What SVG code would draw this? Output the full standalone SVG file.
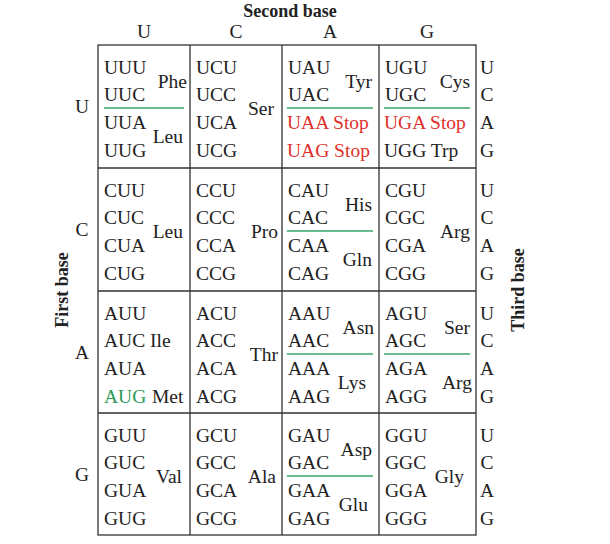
<svg xmlns="http://www.w3.org/2000/svg" width="610" height="544" viewBox="0 0 610 544">
<style>
text{font-family:"Liberation Serif",serif;font-size:19.5px;fill:#222}
.b{font-weight:bold;font-size:18px}
.r{fill:#e0302a}
.g{fill:#2e9a5a}
.e{text-anchor:end}
.m{text-anchor:middle}
.gl{stroke:#3aa66a;stroke-width:1.5}
.grid{fill:none;stroke:#333;stroke-width:1.3}
</style>
<rect width="610" height="544" fill="#fff"/>
<g id="headers">
<text class="b m" x="290" y="17">Second base</text>
<text class="m" x="144" y="38">U</text><text class="m" x="236" y="38">C</text><text class="m" x="330" y="38">A</text><text class="m" x="427" y="38">G</text>
<text class="m" x="82" y="113">U</text><text class="m" x="82" y="236">C</text><text class="m" x="82" y="359">A</text><text class="m" x="82" y="481">G</text>
<text class="b m" transform="translate(68,290) rotate(-90)">First base</text>
<text class="b m" transform="translate(524,290) rotate(-90)">Third base</text>
</g>
<g id="third">
<text class="m" x="487" y="74">U</text><text class="m" x="487" y="101">C</text><text class="m" x="487" y="129">A</text><text class="m" x="487" y="157">G</text>
<text class="m" x="487" y="197">U</text><text class="m" x="487" y="224">C</text><text class="m" x="487" y="252">A</text><text class="m" x="487" y="280">G</text>
<text class="m" x="487" y="320">U</text><text class="m" x="487" y="347">C</text><text class="m" x="487" y="375">A</text><text class="m" x="487" y="403">G</text>
<text class="m" x="487" y="442">U</text><text class="m" x="487" y="469">C</text><text class="m" x="487" y="497">A</text><text class="m" x="487" y="525">G</text>
</g>
<g id="grid" class="grid">
<rect x="98" y="45" width="378" height="490"/>
<path d="M190 45V535M282 45V535M379 45V535M98 168H476M98 291H476M98 413H476"/>
</g>
<g id="connectors">
<path class="gl" d="M104 108H184M287 108H373M384 108H470M287 231H373M287 354H373M384 354H470M287 476H373"/>
</g>
<g id="rowU">
<text x="104" y="74">UUU</text><text x="104" y="101">UUC</text><text x="104" y="129">UUA</text><text x="104" y="157">UUG</text>
<text class="e" x="187" y="88">Phe</text><text class="e" x="183" y="143">Leu</text>
<text x="196" y="74">UCU</text><text x="196" y="101">UCC</text><text x="196" y="129">UCA</text><text x="196" y="157">UCG</text>
<text class="e" x="274" y="115">Ser</text>
<text x="288" y="74">UAU</text><text x="288" y="101">UAC</text><text class="r" x="287" y="129">UAA Stop</text><text class="r" x="287" y="157">UAG Stop</text>
<text class="e" x="372" y="88">Tyr</text>
<text x="385" y="74">UGU</text><text x="385" y="101">UGC</text><text class="r" x="384" y="129">UGA Stop</text><text x="384" y="157">UGG Trp</text>
<text class="e" x="470" y="88">Cys</text>
</g>
<g id="rowC">
<text x="104" y="197">CUU</text><text x="104" y="224">CUC</text><text x="104" y="252">CUA</text><text x="104" y="280">CUG</text>
<text class="e" x="183" y="238">Leu</text>
<text x="196" y="197">CCU</text><text x="196" y="224">CCC</text><text x="196" y="252">CCA</text><text x="196" y="280">CCG</text>
<text class="e" x="278" y="238">Pro</text>
<text x="288" y="197">CAU</text><text x="288" y="224">CAC</text><text x="288" y="252">CAA</text><text x="288" y="280">CAG</text>
<text class="e" x="372" y="211">His</text><text class="e" x="372" y="266">Gln</text>
<text x="385" y="197">CGU</text><text x="385" y="224">CGC</text><text x="385" y="252">CGA</text><text x="385" y="280">CGG</text>
<text class="e" x="470" y="238">Arg</text>
</g>
<g id="rowA">
<text x="104" y="320">AUU</text><text x="104" y="347">AUC Ile</text><text x="104" y="375">AUA</text><text class="g" x="104" y="403">AUG</text><text x="152" y="403">Met</text>
<text x="196" y="320">ACU</text><text x="196" y="347">ACC</text><text x="196" y="375">ACA</text><text x="196" y="403">ACG</text>
<text class="e" x="278" y="361">Thr</text>
<text x="288" y="320">AAU</text><text x="288" y="347">AAC</text><text x="288" y="375">AAA</text><text x="288" y="403">AAG</text>
<text class="e" x="374" y="334">Asn</text><text class="e" x="366" y="389">Lys</text>
<text x="385" y="320">AGU</text><text x="385" y="347">AGC</text><text x="385" y="375">AGA</text><text x="385" y="403">AGG</text>
<text class="e" x="470" y="334">Ser</text><text class="e" x="472" y="389">Arg</text>
</g>
<g id="rowG">
<text x="104" y="442">GUU</text><text x="104" y="469">GUC</text><text x="104" y="497">GUA</text><text x="104" y="525">GUG</text>
<text class="e" x="182" y="483">Val</text>
<text x="196" y="442">GCU</text><text x="196" y="469">GCC</text><text x="196" y="497">GCA</text><text x="196" y="525">GCG</text>
<text class="e" x="276" y="483">Ala</text>
<text x="288" y="442">GAU</text><text x="288" y="469">GAC</text><text x="288" y="497">GAA</text><text x="288" y="525">GAG</text>
<text class="e" x="372" y="456">Asp</text><text class="e" x="368" y="511">Glu</text>
<text x="385" y="442">GGU</text><text x="385" y="469">GGC</text><text x="385" y="497">GGA</text><text x="385" y="525">GGG</text>
<text class="e" x="464" y="483">Gly</text>
</g>
</svg>
